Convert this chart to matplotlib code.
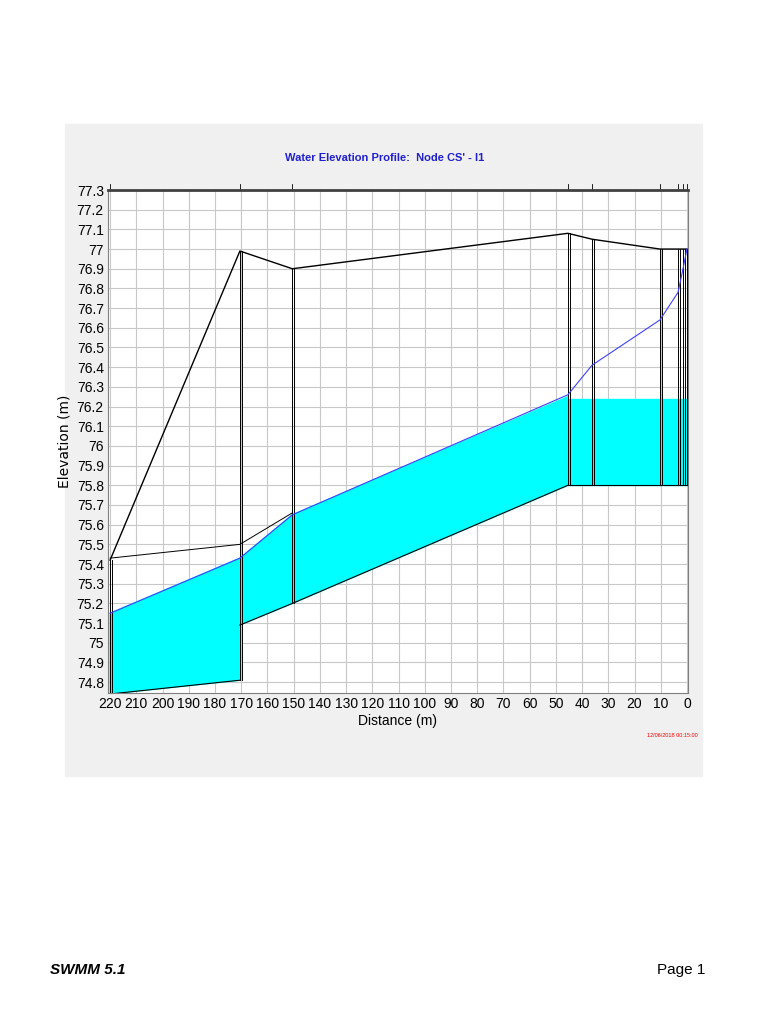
import matplotlib.pyplot as plt
import matplotlib.patches as mpatches

plt.rcParams['font.family'] = ['Liberation Sans Narrow', 'Liberation Sans', 'DejaVu Sans']

# node stations (m) and elevations
node_x = [220, 170.5, 150.5, 45.4, 36.2, 10.3, 3.4, 1.5, 0]
ground = [75.42, 76.99, 76.90, 77.08, 77.05, 77.00, 77.00, 77.00, 77.00]
hgl = [75.15, 75.43, 75.65, 76.26, 76.41, 76.64, 76.78, 76.90, 77.00]

# conduit segments
seg_x0 = [220, 170.5, 150.5, 45.4]
seg_x1 = [170.5, 150.5, 45.4, 0]
seg_inv0 = [74.74, 75.09, 75.20, 75.80]
seg_inv1 = [74.81, 75.20, 75.80, 75.80]
seg_wat0 = [75.15, 75.43, 75.65, 76.24]
seg_wat1 = [75.43, 75.65, 76.25, 76.24]
crown_x = [220, 170.5, 150.5]
crown_y = [75.43, 75.50, 75.66]
bottoms = [74.74, 74.81, 75.20, 75.80, 75.80, 75.80, 75.80, 75.80, 75.80]

fig = plt.figure(figsize=(7.68, 10.24), dpi=100)
fig.patches.append(mpatches.Rectangle((65/768, 1-776/1024), 637/768, 652/1024,
                                      transform=fig.transFigure, color='#f0f0f0', zorder=-1))
ax = fig.add_axes([108/768, 1-693/1024, 580/768, 503/1024])
ax.set_facecolor('white')

for x0, x1, i0, i1, w0, w1 in zip(seg_x0, seg_x1, seg_inv0, seg_inv1, seg_wat0, seg_wat1):
    ax.fill([x0, x1, x1, x0], [i0, i1, w1, w0], color='#00ffff', zorder=2)
    ax.plot([x0, x1], [i0, i1], color='black', lw=0.8, zorder=3)

ax.plot(crown_x, crown_y, color='black', lw=0.7, zorder=3)
ax.plot(node_x, ground, color='black', lw=1.0, zorder=3)
ax.plot(node_x, hgl, color='#4040ff', lw=0.8, zorder=4)

# manhole walls
for x, b, g in zip(node_x, bottoms, ground):
    ax.plot([x, x], [b, g], color='black', lw=0.7, zorder=3)
    ax.plot([x - 0.8, x - 0.8], [b, g], color='black', lw=0.7, zorder=3)

ax.set_xlim(220.8, -0.4)
ax.set_ylim(74.745, 77.3)
ax.set_xticks(range(220, -1, -10))
yt = [round(74.8 + 0.1 * k, 1) for k in range(26)]
ax.set_yticks(yt)
ax.set_yticklabels([('%g' % v) for v in yt])
ax.tick_params(labelsize=10, length=0, pad=3)
ax.grid(True, color='#c8c8c8', lw=0.8, zorder=1)
ax.set_axisbelow(True)
for s in ax.spines.values():
    s.set_color('#808080')
ax.spines['top'].set_linewidth(2)
ax.spines['top'].set_color('#404040')
ax.set_xlabel('Distance (m)', fontsize=10, labelpad=2)
ax.set_ylabel('Elevation (m)', fontsize=10, labelpad=4, family=['DejaVu Sans'])

for x in node_x:
    ax.plot([x, x], [77.3, 77.33], color='black', lw=0.6, clip_on=False)

fig.text(385/768, 1-158/1024, "Water Elevation Profile:  Node CS' - I1", color='#2020d0',
         fontsize=8, fontweight='bold', ha='center', va='center')
fig.text(672/768, 1-737/1024, '12/06/2018 00:15:00', color='red', fontsize=4, ha='center')
fig.text(50/768, 1-970/1024, 'SWMM 5.1', fontsize=11, fontweight='bold', style='italic', va='center')
fig.text(705/768, 1-970/1024, 'Page 1', fontsize=11, ha='right', va='center')

fig.savefig('out.png', dpi=100)
